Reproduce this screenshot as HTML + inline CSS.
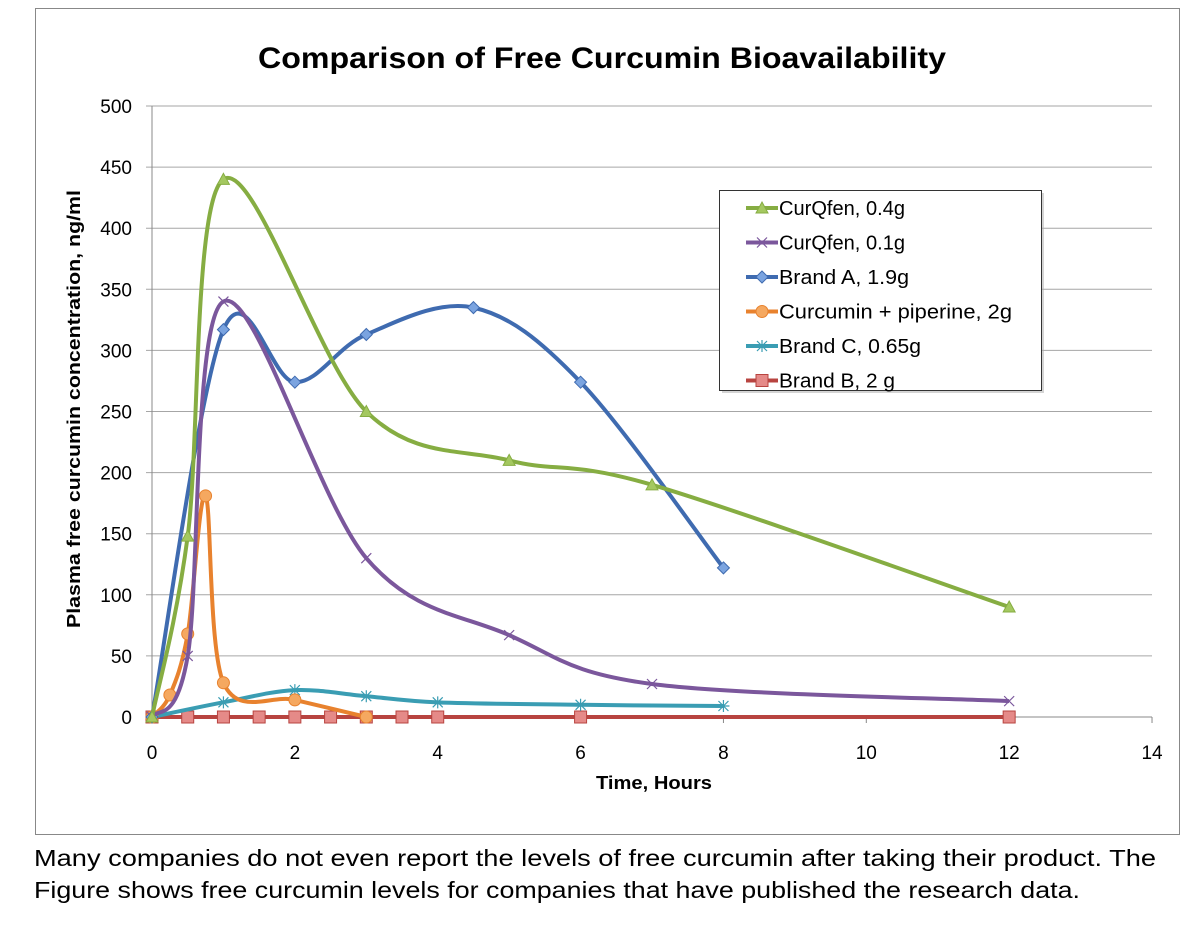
<!DOCTYPE html>
<html><head><meta charset="utf-8"><style>
body{margin:0;background:#fff;width:1200px;height:928px;overflow:hidden;font-family:"Liberation Sans",sans-serif}
</style></head><body>
<svg id="s" width="1200" height="928" style="position:absolute;left:0;top:0" font-family="Liberation Sans, sans-serif">
<rect x="35.5" y="8.5" width="1144" height="826" fill="#fff" stroke="#888" stroke-width="1"/>
<text x="258" y="68" textLength="688" lengthAdjust="spacingAndGlyphs" font-size="30" font-weight="bold">Comparison of Free Curcumin Bioavailability</text>
<g id="grid"></g>
<text transform="translate(80,409) rotate(-90)" text-anchor="middle" textLength="438" lengthAdjust="spacingAndGlyphs" font-size="18" font-weight="bold">Plasma free curcumin concentration, ng/ml</text>
<text x="596" y="789" textLength="116" lengthAdjust="spacingAndGlyphs" font-size="18" font-weight="bold">Time, Hours</text>
<g id="series"></g>
<g>
<rect x="722" y="193" width="322" height="200" fill="#aaa" opacity="0.5"/>
<rect x="719.5" y="190.5" width="322" height="200" fill="#fff" stroke="#333"/>
<g id="leg" font-size="20"></g>
</g>
<text x="34" y="866" font-size="23" textLength="1122" lengthAdjust="spacingAndGlyphs">Many companies do not even report the levels of free curcumin after taking their product. The</text>
<text x="34" y="898" font-size="23" textLength="1046" lengthAdjust="spacingAndGlyphs">Figure shows free curcumin levels for companies that have published the research data.</text>
</svg>
<script>
const X=t=>152+71.43*t, Y=v=>717-1.222*v;
const NS="http://www.w3.org/2000/svg";
function el(p,tag,a,txt){const e=document.createElementNS(NS,tag);for(const k in a)e.setAttribute(k,a[k]);if(txt!=null)e.textContent=txt;p.appendChild(e);return e;}
const g=document.getElementById('grid');
for(let v=0;v<=500;v+=50){const y=Y(v);el(g,'line',{x1:146,x2:1152,y1:y,y2:y,stroke:v?'#a6a6a6':'#888','stroke-width':1});
el(g,'text',{x:132,y:y+7,'text-anchor':'end','font-size':19},v);}
el(g,'line',{x1:152,x2:152,y1:106,y2:717,stroke:'#888'});
for(let t=0;t<=14;t+=2){el(g,'line',{x1:X(t),x2:X(t),y1:717,y2:723,stroke:'#888'});el(g,'text',{x:X(t),y:759,'text-anchor':'middle','font-size':19},t);}
function path(pts){const P=pts.map(p=>[X(p[0]),Y(p[1])]);let d=`M${P[0][0]},${P[0][1]}`;
for(let i=0;i<P.length-1;i++){const p0=P[i-1]||P[i],p1=P[i],p2=P[i+1],p3=P[i+2]||P[i+1];const k=6;
d+=` C${p1[0]+(p2[0]-p0[0])/k},${p1[1]+(p2[1]-p0[1])/k} ${p2[0]-(p3[0]-p1[0])/k},${p2[1]-(p3[1]-p1[1])/k} ${p2[0]},${p2[1]}`;}return d;}
function marker(p,type,x,y,c,f){
 if(type=='tri')el(p,'polygon',{points:`${x},${y-6} ${x+6},${y+5} ${x-6},${y+5}`,fill:f,stroke:c,'stroke-width':1});
 if(type=='x'){el(p,'path',{d:`M${x-5},${y-5}L${x+5},${y+5}M${x-5},${y+5}L${x+5},${y-5}`,stroke:c,'stroke-width':1.2});}
 if(type=='dia')el(p,'polygon',{points:`${x},${y-6} ${x+6},${y} ${x},${y+6} ${x-6},${y}`,fill:f,stroke:c,'stroke-width':1});
 if(type=='circ')el(p,'circle',{cx:x,cy:y,r:6,fill:f,stroke:c,'stroke-width':1});
 if(type=='star')el(p,'path',{d:`M${x-6},${y}L${x+6},${y}M${x},${y-6}L${x},${y+6}M${x-5},${y-5}L${x+5},${y+5}M${x-5},${y+5}L${x+5},${y-5}`,stroke:c,'stroke-width':1.2});
 if(type=='sq')el(p,'rect',{x:x-6,y:y-6,width:12,height:12,fill:f,stroke:c,'stroke-width':1});
}
const S=[
 {n:'CurQfen, 0.4g',w:126,c:'#86ad42',f:'#a4c860',m:'tri',d:[[0,0],[0.5,148],[1,440],[3,250],[5,210],[7,190],[12,90]]},
 {n:'CurQfen, 0.1g',w:126,c:'#7b579c',f:'#7b579c',m:'x',d:[[0,0],[0.5,50],[1,340],[3,130],[5,67],[7,27],[12,13]]},
 {n:'Brand A, 1.9g',w:130,c:'#3f6bb0',f:'#7ba4e0',m:'dia',d:[[0,0],[1,317],[2,274],[3,313],[4.5,335],[6,274],[8,122]]},
 {n:'Curcumin + piperine, 2g',w:233,c:'#e8822e',f:'#f5a860',m:'circ',d:[[0,0],[0.25,18],[0.5,68],[0.75,181],[1,28],[2,14],[3,0]]},
 {n:'Brand C, 0.65g',w:142,c:'#3a9db3',f:'#3a9db3',m:'star',d:[[0,0],[1,12],[2,22],[3,17],[4,12],[6,10],[8,9]]},
 {n:'Brand B, 2 g',w:116,c:'#b84440',f:'#e58a88',m:'sq',d:[[0,0],[0.5,0],[1,0],[1.5,0],[2,0],[2.5,0],[3,0],[3.5,0],[4,0],[6,0],[12,0]]},
];
const sg=document.getElementById('series'),lg=document.getElementById('leg');
S.slice().reverse().forEach(s=>{el(sg,'path',{d:path(s.d),fill:'none',stroke:s.c,'stroke-width':4,'stroke-linejoin':'round'});
 s.d.forEach(p=>marker(sg,s.m,X(p[0]),Y(p[1]),s.c,s.f));});
S.forEach((s,i)=>{const y=208+i*34.5;el(lg,'line',{x1:746,x2:778,y1:y,y2:y,stroke:s.c,'stroke-width':4});marker(lg,s.m,762,y,s.c,s.f);
 el(lg,'text',{x:779,y:y+7,textLength:s.w,lengthAdjust:'spacingAndGlyphs'},s.n);});
</script>
</body></html>
